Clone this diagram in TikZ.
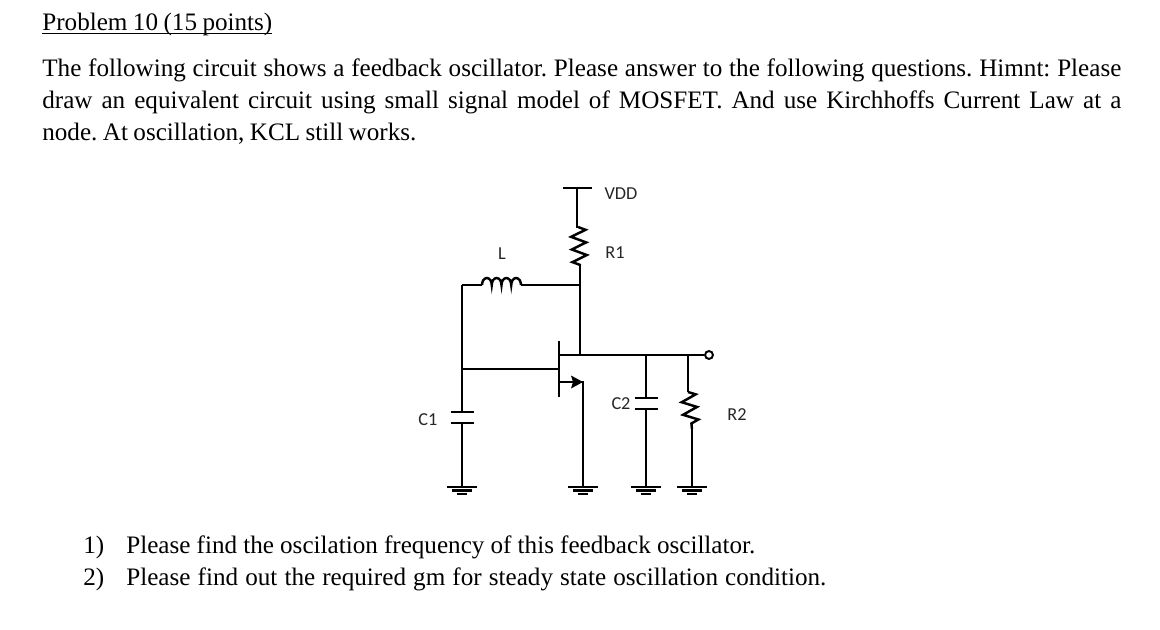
\documentclass[tikz,border=0pt]{standalone}
\usepackage{fontspec}
\setmainfont{Liberation Serif}
\newfontfamily\labelfont{Carlito}
\usetikzlibrary{decorations.pathmorphing}
\frenchspacing
\tikzset{
  wire/.style={line width=1.4pt},
  resistor/.style={wire, decorate, decoration={zigzag, segment length=7.2pt, amplitude=4.2pt}},
  plate/.style={line width=1.4pt},
  textline/.style={anchor=base west, inner sep=0pt, font=\fontsize{14.3}{18}\selectfont},
  partlabel/.style={inner sep=0pt, font=\labelfont\fontsize{10.4}{12}\selectfont, text=black!85},
  outpin/.style={draw, circle, line width=1.1pt, inner sep=0pt, minimum size=4.5pt, fill=white}
}
\begin{document}
\begin{tikzpicture}[x=0.2mm, y=-0.2mm]
\useasboundingbox (0,0) rectangle (1160,630);
%text
\node [textline] (title) at (42,30.5) {\makebox[46mm][s]{Problem 10 (15 points)}};
\draw [line width=0.9pt] (42,33.5) -- (272,33.5);
\node [textline] (lineA) at (42,77) {\makebox[215.8mm][s]{The following circuit shows a feedback oscillator. Please answer to the following questions. Himnt: Please}};
\node [textline] (lineB) at (42,108) {\makebox[215.8mm][s]{draw an equivalent circuit using small signal model of MOSFET. And use Kirchhoffs Current Law at a}};
\node [textline] (lineC) at (42,140) {\makebox[74.8mm][s]{node. At oscillation, KCL still works.}};
\node [textline] (numA) at (83,553) {1)};
\node [textline] (itemA) at (126,553) {\makebox[125.8mm][s]{Please find the oscilation frequency of this feedback oscillator.}};
\node [textline] (numB) at (83,585) {2)};
\node [textline] (itemB) at (126,585) {\makebox[140mm][s]{Please find out the required gm for steady state oscillation condition.}};
%points of the circuit
\coordinate (vddL) at (563,188);
\coordinate (vddR) at (592,188);
\coordinate (vdd) at (577,188);
\coordinate (rOneT) at (578,227);
\coordinate (rOneB) at (580,265);
\coordinate (drainT) at (580,285);
\coordinate (drainB) at (580,355);
\coordinate (lOuter) at (462,285);
\coordinate (lA) at (482,285);
\coordinate (lB) at (521,285);
\coordinate (gateL) at (462,369);
\coordinate (gateR) at (559,369);
\coordinate (barT) at (559,341);
\coordinate (barB) at (559,397);
\coordinate (drainL) at (559,355);
\coordinate (sourceL) at (559,382);
\coordinate (sourceR) at (583,382);
\coordinate (cOneT) at (462,412);
\coordinate (cOneB) at (462,423);
\coordinate (gndA) at (462,487);
\coordinate (gndB) at (583,487);
\coordinate (gndC) at (646,487);
\coordinate (gndD) at (692,487);
\coordinate (cTwoNode) at (646,355);
\coordinate (cTwoT) at (646,398);
\coordinate (cTwoB) at (646,409);
\coordinate (rTwoNode) at (688,355);
\coordinate (rTwoT) at (688,392);
\coordinate (rTwoB) at (692,429);
\node [outpin] (out) at (709,355) {};
%supply, R1, L
\draw [plate] (vddL) -- (vddR);
\draw [wire] (vdd) -- (vdd |- rOneT) -- (rOneT);
\draw [resistor] (rOneT) -- (rOneB);
\draw [wire] (rOneB) -- (drainT) -- (drainB);
\draw [wire] (drainT) -- (lB);
\draw [wire] (drainB) -- (drainL);
\draw [wire] (lOuter) -- (lA);
\draw [wire] (lA)
  \foreach \i in {1,2,3,4} {arc [start angle=180, end angle=360, x radius=4.875, y radius=7]};
\draw [wire] (lOuter) -- (gateL) -- (cOneT);
%transistor
\draw [wire] (gateL) -- (gateR);
\draw [wire] (barT) -- (barB);
\draw [wire] (drainL) -- (out);
\draw [wire] (sourceL) -- (sourceR) -- (gndB);
\fill (sourceR) -- +(-12,-6.5) -- +(-10,0) -- +(-12,6.5) -- cycle;
%C1, C2, R2
\draw [plate] ([xshift=-11.5*0.2mm]cOneT) -- ([xshift=11.5*0.2mm]cOneT);
\draw [plate] ([xshift=-11.5*0.2mm]cOneB) -- ([xshift=11.5*0.2mm]cOneB);
\draw [wire] (cOneB) -- (gndA);
\draw [wire] (cTwoNode) -- (cTwoT);
\draw [plate] ([xshift=-11.5*0.2mm]cTwoT) -- ([xshift=11.5*0.2mm]cTwoT);
\draw [plate] ([xshift=-11.5*0.2mm]cTwoB) -- ([xshift=11.5*0.2mm]cTwoB);
\draw [wire] (cTwoB) -- (gndC);
\draw [wire] (rTwoNode) -- (rTwoT);
\draw [resistor] (rTwoT) -- (rTwoB);
\draw [wire] (rTwoB) -- (gndD);
%grounds
\foreach \g in {gndA,gndB,gndC,gndD} {
  \draw [wire] ([xshift=-15*0.2mm]\g) -- ([xshift=15*0.2mm]\g);
  \draw [wire] ([xshift=-10*0.2mm,yshift=-3.6*0.2mm]\g) -- ([xshift=10*0.2mm,yshift=-3.6*0.2mm]\g);
  \draw [wire] ([xshift=-5*0.2mm,yshift=-7.2*0.2mm]\g) -- ([xshift=5*0.2mm,yshift=-7.2*0.2mm]\g);
}
%labels
\node [partlabel] (vddLabel) at (621,194) {VDD};
\node [partlabel] (rOneLabel) at (615,253) {R1};
\node [partlabel] (lLabel) at (502,254) {L};
\node [partlabel] (cOneLabel) at (428,420) {C1};
\node [partlabel] (cTwoLabel) at (621,404) {C2};
\node [partlabel] (rTwoLabel) at (737,415) {R2};
\end{tikzpicture}
\end{document}
